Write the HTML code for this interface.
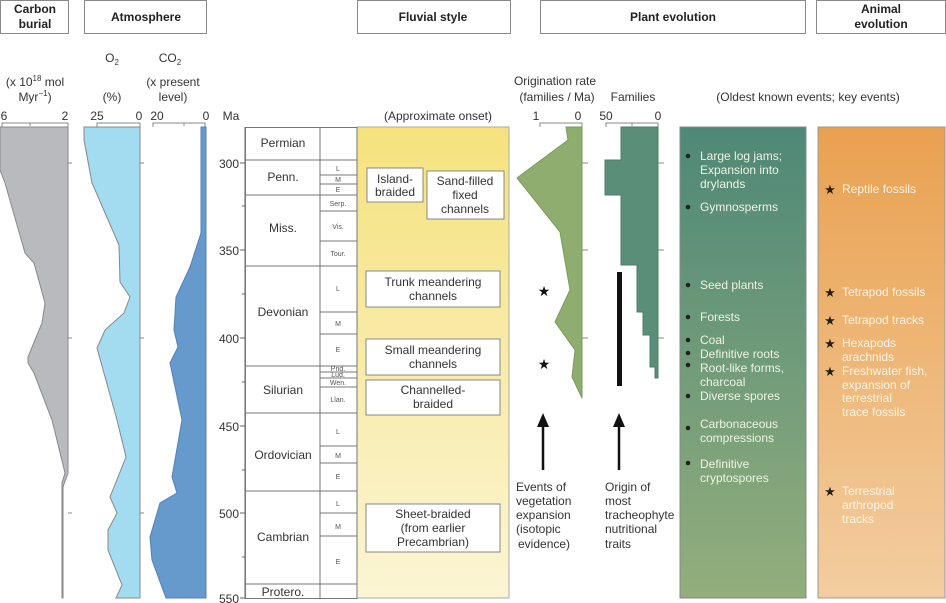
<!DOCTYPE html>
<html><head><meta charset="utf-8"><style>
html,body{margin:0;padding:0;background:#fff;}
svg{display:block;font-family:"Liberation Sans",sans-serif;}
</style></head><body>
<svg width="946" height="603" viewBox="0 0 946 603" xmlns="http://www.w3.org/2000/svg">
<defs>
<linearGradient id="gy" x1="0" y1="0" x2="0" y2="1"><stop offset="0" stop-color="#f5e27e"/><stop offset="1" stop-color="#fbf5d4"/></linearGradient>
<linearGradient id="gg" x1="0" y1="0" x2="0" y2="1"><stop offset="0" stop-color="#4e8877"/><stop offset="1" stop-color="#93ae7c"/></linearGradient>
<linearGradient id="go" x1="0" y1="0" x2="0" y2="1"><stop offset="0" stop-color="#e9a150"/><stop offset="1" stop-color="#f3cda0"/></linearGradient>
</defs>
<g fill="#fff" stroke="#888" stroke-width="1">
<rect x="0.5" y="0.5" width="68" height="33"/>
<rect x="84.5" y="0.5" width="122" height="33"/>
<rect x="357.5" y="0.5" width="153" height="33"/>
<rect x="540.5" y="0.5" width="265" height="33"/>
<rect x="816.5" y="0.5" width="129" height="33"/>
</g>
<g font-weight="bold" font-size="12" text-anchor="middle" fill="#222">
<text x="35" y="13">Carbon</text><text x="35" y="28">burial</text>
<text x="146" y="21">Atmosphere</text>
<text x="433" y="21">Fluvial style</text>
<text x="673" y="21">Plant evolution</text>
<text x="881" y="13">Animal</text><text x="881" y="28">evolution</text>
</g>
<g font-size="12" fill="#333" text-anchor="middle">
<text x="112" y="62">O<tspan font-size="8" dy="3">2</tspan></text>
<text x="170" y="62">CO<tspan font-size="8" dy="3">2</tspan></text>
<text x="35" y="86">(x 10<tspan font-size="8" dy="-5">18</tspan><tspan dy="5"> mol</tspan></text>
<text x="35" y="101">Myr<tspan font-size="8" dy="-5">−1</tspan><tspan dy="5">)</tspan></text>
<text x="112" y="101">(%)</text>
<text x="173" y="86">(x present</text><text x="173" y="101">level)</text>
<text x="4" y="120">6</text><text x="65" y="120">2</text>
<text x="97" y="120">25</text><text x="139" y="120">0</text>
<text x="157" y="120">20</text><text x="206" y="120">0</text>
<text x="231" y="120">Ma</text>
<text x="438" y="120">(Approximate onset)</text>
<text x="555" y="85">Origination rate</text>
<text x="557" y="101">(families / Ma)</text>
<text x="633" y="101">Families</text>
<text x="536" y="120">1</text><text x="578" y="120">0</text>
<text x="606" y="120">50</text><text x="658" y="120">0</text>
<text x="808" y="101">(Oldest known events; key events)</text>
</g>
<g stroke="#888" fill="none" stroke-width="1">
<path d="M2 127V123H68V127M30 123v3"/>
<path d="M97 127V123H140V127"/>
<path d="M153 127V123H205V127M184 123v3"/>
<path d="M540 127V123H582V127"/>
<path d="M606 127V123H658V127M632 123v3"/>
</g>
<polygon fill="#b9babd" stroke="#888" points="0,127 68,127 68,473 63,487 63,598 62,598 62,483 65,473 52,420 50,415 34,373 28,363 28,357 42,323 45,303 34,263 25,253 5,183 0,170"/>
<polygon fill="#a3dbf0" stroke="#888" points="84,127 140,127 140,598 116,598 122,585 108,550 108,530 117,513 110,497 126,457 117,420 97,348 105,330 124,313 130,297 120,282 119,245 92,183 84,140"/>
<polygon fill="#6699cc" stroke="#5580b0" points="201,127 206,127 206,598 166,598 152,560 150,537 160,503 177,493 172,477 182,420 170,363 178,347 174,330 176,297 190,267 201,233"/>
<g stroke="#888" stroke-width="1">
<path d="M68 163h4M68 338h4M68 513h4M140 163h4M140 338h4M140 513h4"/>
</g>
<!-- Ma axis -->
<g stroke="#666" fill="none">
<path d="M245 127V598M240 163h5M240 250h5M240 338h5M240 426h5M240 513h5M240 598h5M242 206h3M242 294h3M242 382h3M242 470h3M242 557h3"/>
</g>
<g font-size="12" fill="#333" text-anchor="end">
<text x="239" y="168">300</text><text x="239" y="255">350</text><text x="239" y="343">400</text><text x="239" y="431">450</text><text x="239" y="518">500</text><text x="239" y="603">550</text>
</g>
<rect x="357" y="127" width="152" height="471" fill="url(#gy)" stroke="#aaa"/>
<g stroke="#777" fill="none" stroke-width="1">
<rect x="245.5" y="127.5" width="111.5" height="471"/>
<path d="M320 127V598"/>
<path d="M245 160H357M245 195H357M245 266H357M245 366H357M245 413H357M245 491H357M245 584H357"/>
<path d="M320 175H357M320 184H357M320 211H357M320 241H357M320 312H357M320 334H357M320 372H357M320 378H357M320 387H357M320 446H357M320 463H357M320 513H357M320 536H357"/>
</g>
<g font-size="12" fill="#333" text-anchor="middle">
<text x="283" y="147">Permian</text><text x="283" y="181">Penn.</text><text x="283" y="232">Miss.</text><text x="283" y="316">Devonian</text><text x="283" y="394">Silurian</text><text x="283" y="459">Ordovician</text><text x="283" y="541">Cambrian</text><text x="283" y="596">Protero.</text>
</g>
<g font-size="7" fill="#555" text-anchor="middle">
<text x="338" y="171">L</text><text x="338" y="182">M</text><text x="338" y="192">E</text>
<text x="338" y="206">Serp.</text><text x="338" y="229">Vis.</text><text x="338" y="256">Tour.</text>
<text x="338" y="291">L</text><text x="338" y="326">M</text><text x="338" y="352">E</text>
<text x="338" y="371">Prid.</text><text x="338" y="377">Lud.</text><text x="338" y="385">Wen.</text><text x="338" y="402">Llan.</text>
<text x="338" y="434">L</text><text x="338" y="458">M</text><text x="338" y="479">E</text>
<text x="338" y="506">L</text><text x="338" y="529">M</text><text x="338" y="564">E</text>
</g>
<g fill="#fff" stroke="#888">
<rect x="367" y="168" width="56" height="34"/>
<rect x="427" y="171" width="77" height="48"/>
<rect x="366" y="271" width="134" height="36"/>
<rect x="366" y="339" width="134" height="36"/>
<rect x="366" y="380" width="134" height="35"/>
<rect x="366" y="504" width="134" height="48"/>
</g>
<g font-size="12" fill="#333" text-anchor="middle">
<text x="395" y="183">Island-</text><text x="395" y="196">braided</text>
<text x="465" y="185">Sand-filled</text><text x="465" y="199">fixed</text><text x="465" y="213">channels</text>
<text x="433" y="286">Trunk meandering</text><text x="433" y="300">channels</text>
<text x="433" y="354">Small meandering</text><text x="433" y="368">channels</text>
<text x="433" y="394">Channelled-</text><text x="433" y="408">braided</text>
<text x="433" y="518">Sheet-braided</text><text x="433" y="532">(from earlier</text><text x="433" y="546">Precambrian)</text>
</g>
<polygon fill="#8fad6f" stroke="#7a9a5e" points="582,127 566,127 568,140 517,178 560,232 570,290 555,322 575,350 572,377 582,398"/>
<polygon fill="#5a8e78" stroke="#4c7e69" points="621,127 658,127 658,378 655,378 655,367 650,367 650,335 643,335 643,312 637,312 637,265 621,265 621,195 605,195 605,160 621,160"/>
<g stroke="#888"><path d="M582 163h6M582 250h6M582 338h6M658 163h6M658 250h6M658 338h6"/></g>
<rect x="617" y="272" width="5" height="114" fill="#111"/>
<g font-size="14" fill="#111" text-anchor="middle"><text x="544" y="296">★</text><text x="544" y="369">★</text></g>
<g stroke="#111" stroke-width="2.5" fill="#111">
<path d="M543 470V425M619 470V425"/>
</g>
<polygon points="537,427 549,427 543,413" fill="#111"/>
<polygon points="613,427 625,427 619,413" fill="#111"/>
<g font-size="12" fill="#333">
<text x="516" y="491">Events of</text><text x="516" y="505">vegetation</text><text x="516" y="519">expansion</text><text x="516" y="533">(isotopic</text><text x="518" y="548">evidence)</text>
<text x="605" y="491">Origin of</text><text x="605" y="505">most</text><text x="605" y="519">tracheophyte</text><text x="605" y="533">nutritional</text><text x="605" y="548">traits</text>
</g>
<rect x="680" y="127" width="126" height="471" fill="url(#gg)" stroke="#888"/>
<rect x="818" y="127" width="127" height="471" fill="url(#go)" stroke="#999"/>
<g fill="#222">
<circle cx="688" cy="156" r="2.3"/><circle cx="688" cy="207" r="2.3"/><circle cx="688" cy="285" r="2.3"/><circle cx="688" cy="317" r="2.3"/><circle cx="688" cy="340" r="2.3"/><circle cx="688" cy="353" r="2.3"/><circle cx="688" cy="365" r="2.3"/><circle cx="688" cy="396" r="2.3"/><circle cx="688" cy="428" r="2.3"/><circle cx="688" cy="463" r="2.3"/>
</g>
<g font-size="12" fill="#eef3e4">
<text x="700" y="160">Large log jams;</text><text x="700" y="174">Expansion into</text><text x="700" y="188">drylands</text>
<text x="700" y="211">Gymnosperms</text>
<text x="700" y="289">Seed plants</text>
<text x="700" y="321">Forests</text>
<text x="700" y="344">Coal</text><text x="700" y="358">Definitive roots</text><text x="700" y="372">Root-like forms,</text><text x="700" y="386">charcoal</text><text x="700" y="400">Diverse spores</text>
<text x="700" y="428">Carbonaceous</text><text x="700" y="442">compressions</text>
<text x="700" y="468">Definitive</text><text x="700" y="482">cryptospores</text>
</g>
<g font-size="13" fill="#222" text-anchor="middle">
<text x="830" y="194">★</text><text x="830" y="297">★</text><text x="830" y="325">★</text><text x="830" y="348">★</text><text x="830" y="376">★</text><text x="830" y="496">★</text>
</g>
<g font-size="12" fill="#fdf4e8">
<text x="842" y="193">Reptile fossils</text>
<text x="842" y="296">Tetrapod fossils</text>
<text x="842" y="324">Tetrapod tracks</text>
<text x="842" y="347">Hexapods</text><text x="842" y="361">arachnids</text>
<text x="842" y="375">Freshwater fish,</text><text x="842" y="389">expansion of</text><text x="842" y="402">terrestrial</text><text x="842" y="416">trace fossils</text>
<text x="842" y="495">Terrestrial</text><text x="842" y="509">arthropod</text><text x="842" y="523">tracks</text>
</g>
</svg>
</body></html>
